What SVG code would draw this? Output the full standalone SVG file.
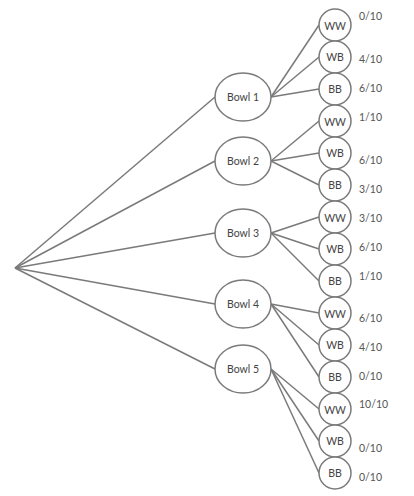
<svg xmlns="http://www.w3.org/2000/svg" width="414" height="496" viewBox="0 0 414 496">
<style>
.ln{stroke:#7a7a7a;stroke-width:1.5;fill:none}
.bw{fill:#fff;stroke:#7a7a7a;stroke-width:1.5}
.t{font-family:Lato,"Liberation Sans",sans-serif;font-size:10.5px;fill:#444;text-anchor:middle;dominant-baseline:central}
.p{font-family:Lato,"Liberation Sans",sans-serif;font-size:10.5px;fill:#555;dominant-baseline:central}
</style>
<rect width="414" height="496" fill="#fff"/>
<g id="connectors" class="ln">
<line x1="15" y1="268" x2="215" y2="97"/>
<line x1="15" y1="268" x2="215" y2="161"/>
<line x1="15" y1="268" x2="215" y2="233"/>
<line x1="15" y1="268" x2="215" y2="304"/>
<line x1="15" y1="268" x2="215" y2="369"/>
<line x1="271" y1="97" x2="319" y2="25"/>
<line x1="271" y1="97" x2="319" y2="57"/>
<line x1="271" y1="97" x2="319" y2="89"/>
<line x1="271" y1="161" x2="319" y2="121"/>
<line x1="271" y1="161" x2="319" y2="153"/>
<line x1="271" y1="161" x2="319" y2="185"/>
<line x1="271" y1="233" x2="319" y2="217"/>
<line x1="271" y1="233" x2="319" y2="249"/>
<line x1="271" y1="233" x2="319" y2="281"/>
<line x1="271" y1="304" x2="319" y2="313"/>
<line x1="271" y1="304" x2="319" y2="345"/>
<line x1="271" y1="304" x2="319" y2="377"/>
<line x1="271" y1="369" x2="319" y2="409"/>
<line x1="271" y1="369" x2="319" y2="441"/>
<line x1="271" y1="369" x2="319" y2="473"/>
</g>
<g id="bowl1"><ellipse class="bw" cx="243" cy="97" rx="28" ry="24"/><text class="t" x="243" y="97">Bowl 1</text></g>
<g id="bowl2"><ellipse class="bw" cx="243" cy="161" rx="28" ry="24"/><text class="t" x="243" y="161">Bowl 2</text></g>
<g id="bowl3"><ellipse class="bw" cx="243" cy="233" rx="28" ry="24"/><text class="t" x="243" y="233">Bowl 3</text></g>
<g id="bowl4"><ellipse class="bw" cx="243" cy="304" rx="28" ry="24"/><text class="t" x="243" y="304">Bowl 4</text></g>
<g id="bowl5"><ellipse class="bw" cx="243" cy="369" rx="28" ry="24"/><text class="t" x="243" y="369">Bowl 5</text></g>
<g id="b1ww"><circle class="bw" cx="335" cy="25" r="16"/><text class="t" x="335" y="26">WW</text></g>
<g id="b1wb"><circle class="bw" cx="335" cy="57" r="16"/><text class="t" x="335" y="57">WB</text></g>
<g id="b1bb"><circle class="bw" cx="335" cy="89" r="16"/><text class="t" x="335" y="89">BB</text></g>
<g id="b2ww"><circle class="bw" cx="335" cy="121" r="16"/><text class="t" x="335" y="122">WW</text></g>
<g id="b2wb"><circle class="bw" cx="335" cy="153" r="16"/><text class="t" x="335" y="153">WB</text></g>
<g id="b2bb"><circle class="bw" cx="335" cy="185" r="16"/><text class="t" x="335" y="185">BB</text></g>
<g id="b3ww"><circle class="bw" cx="335" cy="217" r="16"/><text class="t" x="335" y="218">WW</text></g>
<g id="b3wb"><circle class="bw" cx="335" cy="249" r="16"/><text class="t" x="335" y="249">WB</text></g>
<g id="b3bb"><circle class="bw" cx="335" cy="281" r="16"/><text class="t" x="335" y="281">BB</text></g>
<g id="b4ww"><circle class="bw" cx="335" cy="313" r="16"/><text class="t" x="335" y="314">WW</text></g>
<g id="b4wb"><circle class="bw" cx="335" cy="345" r="16"/><text class="t" x="335" y="345">WB</text></g>
<g id="b4bb"><circle class="bw" cx="335" cy="377" r="16"/><text class="t" x="335" y="377">BB</text></g>
<g id="b5ww"><circle class="bw" cx="335" cy="409" r="16"/><text class="t" x="335" y="410">WW</text></g>
<g id="b5wb"><circle class="bw" cx="335" cy="441" r="16"/><text class="t" x="335" y="441">WB</text></g>
<g id="b5bb"><circle class="bw" cx="335" cy="473" r="16"/><text class="t" x="335" y="473">BB</text></g>
<g id="probs">
<text class="p" x="359" y="16">0/10</text>
<text class="p" x="359" y="59">4/10</text>
<text class="p" x="359" y="88">6/10</text>
<text class="p" x="359" y="117">1/10</text>
<text class="p" x="359" y="160">6/10</text>
<text class="p" x="359" y="189">3/10</text>
<text class="p" x="359" y="218">3/10</text>
<text class="p" x="359" y="247">6/10</text>
<text class="p" x="359" y="276">1/10</text>
<text class="p" x="359" y="318">6/10</text>
<text class="p" x="359" y="347">4/10</text>
<text class="p" x="359" y="376">0/10</text>
<text class="p" x="359" y="404">10/10</text>
<text class="p" x="359" y="448">0/10</text>
<text class="p" x="359" y="477">0/10</text>
</g>
</svg>
